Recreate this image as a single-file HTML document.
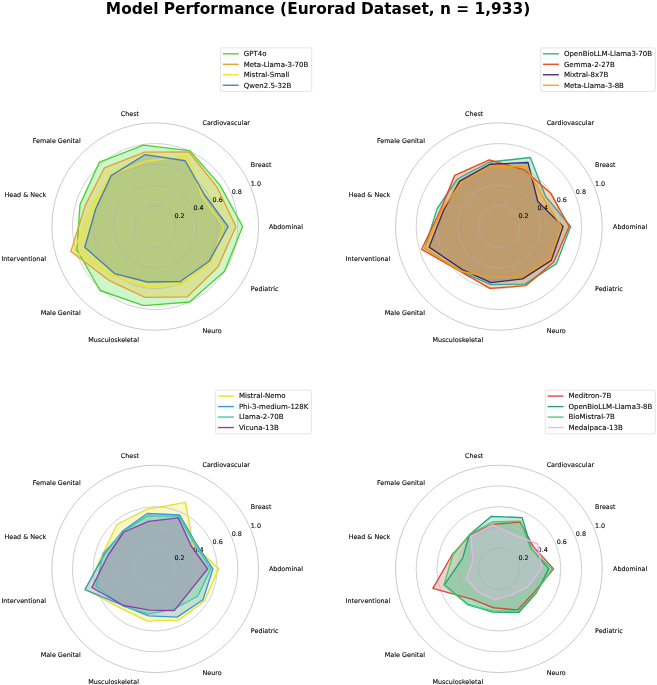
<!DOCTYPE html>
<html><head><meta charset="utf-8"><title>Model Performance</title>
<style>html,body{margin:0;padding:0;background:#fff}body{width:657px;height:685px;overflow:hidden}</style></head>
<body>
<svg width="657" height="685" viewBox="0 0 657 685" style="display:block">
<rect width="657" height="685" fill="#fff"/>
<text x="318.05" y="13.8" text-anchor="middle" font-family="'DejaVu Sans','Liberation Sans',sans-serif" font-weight="bold" font-size="15.39">Model Performance (Eurorad Dataset, n = 1,933)</text>
<g>
<polygon points="242.63,226.55 219.80,184.89 189.76,150.62 143.54,145.15 99.50,162.05 80.03,204.40 76.86,249.63 99.97,290.50 143.86,305.69 189.55,302.01 224.58,271.29" fill="#3eda2a" fill-opacity="0.25" stroke="none"/>
<polygon points="235.92,226.55 216.84,186.80 189.12,152.03 144.54,152.13 104.44,167.77 84.99,205.87 70.91,251.38 108.77,280.31 145.05,297.37 187.23,296.92 217.97,267.03" fill="#ecac08" fill-opacity="0.25" stroke="none"/>
<polygon points="223.72,226.55 201.98,196.39 187.23,156.18 145.85,161.27 110.53,174.82 91.24,207.71 73.89,250.51 112.56,275.92 146.52,287.11 181.60,284.56 211.10,262.60" fill="#f0e400" fill-opacity="0.25" stroke="none"/>
<polygon points="228.17,226.55 204.50,194.76 185.17,160.71 144.90,154.70 111.21,175.61 95.70,209.02 84.79,247.29 114.59,273.57 147.26,281.98 180.23,281.54 209.11,261.31" fill="#487eb0" fill-opacity="0.25" stroke="none"/>
<ellipse cx="155.2" cy="226.55" rx="20.67" ry="20.74" fill="none" stroke="#b0b0b0" stroke-width="0.6"/>
<ellipse cx="155.2" cy="226.55" rx="41.34" ry="41.48" fill="none" stroke="#b0b0b0" stroke-width="0.6"/>
<ellipse cx="155.2" cy="226.55" rx="62.01" ry="62.22" fill="none" stroke="#b0b0b0" stroke-width="0.6"/>
<ellipse cx="155.2" cy="226.55" rx="82.68" ry="82.96" fill="none" stroke="#b0b0b0" stroke-width="0.6"/>
<text x="179.50" y="217.62" text-anchor="middle" font-family="'DejaVu Sans','Liberation Sans',sans-serif" stroke="#000" stroke-width="0.11" stroke-opacity="0.8" font-size="6.4">0.2</text>
<text x="198.59" y="209.68" text-anchor="middle" font-family="'DejaVu Sans','Liberation Sans',sans-serif" stroke="#000" stroke-width="0.11" stroke-opacity="0.8" font-size="6.4">0.4</text>
<text x="217.69" y="201.74" text-anchor="middle" font-family="'DejaVu Sans','Liberation Sans',sans-serif" stroke="#000" stroke-width="0.11" stroke-opacity="0.8" font-size="6.4">0.6</text>
<text x="236.79" y="193.81" text-anchor="middle" font-family="'DejaVu Sans','Liberation Sans',sans-serif" stroke="#000" stroke-width="0.11" stroke-opacity="0.8" font-size="6.4">0.8</text>
<text x="255.88" y="185.87" text-anchor="middle" font-family="'DejaVu Sans','Liberation Sans',sans-serif" stroke="#000" stroke-width="0.11" stroke-opacity="0.8" font-size="6.4">1.0</text>
<polygon points="242.63,226.55 219.80,184.89 189.76,150.62 143.54,145.15 99.50,162.05 80.03,204.40 76.86,249.63 99.97,290.50 143.86,305.69 189.55,302.01 224.58,271.29" fill="none" stroke="#4cd137" stroke-width="1.35" stroke-linejoin="round"/>
<polygon points="235.92,226.55 216.84,186.80 189.12,152.03 144.54,152.13 104.44,167.77 84.99,205.87 70.91,251.38 108.77,280.31 145.05,297.37 187.23,296.92 217.97,267.03" fill="none" stroke="#e5a22c" stroke-width="1.35" stroke-linejoin="round"/>
<polygon points="223.72,226.55 201.98,196.39 187.23,156.18 145.85,161.27 110.53,174.82 91.24,207.71 73.89,250.51 112.56,275.92 146.52,287.11 181.60,284.56 211.10,262.60" fill="none" stroke="#ece32f" stroke-width="1.35" stroke-linejoin="round"/>
<polygon points="228.17,226.55 204.50,194.76 185.17,160.71 144.90,154.70 111.21,175.61 95.70,209.02 84.79,247.29 114.59,273.57 147.26,281.98 180.23,281.54 209.11,261.31" fill="none" stroke="#487eb0" stroke-width="1.35" stroke-linejoin="round"/>
<ellipse cx="155.2" cy="226.55" rx="103.35" ry="103.7" fill="none" stroke="#000" stroke-opacity="0.42" stroke-width="0.51"/>
<text x="268.88" y="228.85" text-anchor="start" font-family="'DejaVu Sans','Liberation Sans',sans-serif" stroke="#000" stroke-width="0.11" stroke-opacity="0.8" font-size="6.4">Abdominal</text>
<text x="250.84" y="167.18" text-anchor="start" font-family="'DejaVu Sans','Liberation Sans',sans-serif" stroke="#000" stroke-width="0.11" stroke-opacity="0.8" font-size="6.4">Breast</text>
<text x="202.43" y="125.09" text-anchor="start" font-family="'DejaVu Sans','Liberation Sans',sans-serif" stroke="#000" stroke-width="0.11" stroke-opacity="0.8" font-size="6.4">Cardiovascular</text>
<text x="139.02" y="115.95" text-anchor="end" font-family="'DejaVu Sans','Liberation Sans',sans-serif" stroke="#000" stroke-width="0.11" stroke-opacity="0.8" font-size="6.4">Chest</text>
<text x="80.75" y="142.65" text-anchor="end" font-family="'DejaVu Sans','Liberation Sans',sans-serif" stroke="#000" stroke-width="0.11" stroke-opacity="0.8" font-size="6.4">Female Genital</text>
<text x="46.12" y="196.72" text-anchor="end" font-family="'DejaVu Sans','Liberation Sans',sans-serif" stroke="#000" stroke-width="0.11" stroke-opacity="0.8" font-size="6.4">Head &amp; Neck</text>
<text x="46.12" y="260.99" text-anchor="end" font-family="'DejaVu Sans','Liberation Sans',sans-serif" stroke="#000" stroke-width="0.11" stroke-opacity="0.8" font-size="6.4">Interventional</text>
<text x="80.75" y="315.06" text-anchor="end" font-family="'DejaVu Sans','Liberation Sans',sans-serif" stroke="#000" stroke-width="0.11" stroke-opacity="0.8" font-size="6.4">Male Genital</text>
<text x="139.02" y="341.76" text-anchor="end" font-family="'DejaVu Sans','Liberation Sans',sans-serif" stroke="#000" stroke-width="0.11" stroke-opacity="0.8" font-size="6.4">Musculoskeletal</text>
<text x="202.43" y="332.62" text-anchor="start" font-family="'DejaVu Sans','Liberation Sans',sans-serif" stroke="#000" stroke-width="0.11" stroke-opacity="0.8" font-size="6.4">Neuro</text>
<text x="250.84" y="290.52" text-anchor="start" font-family="'DejaVu Sans','Liberation Sans',sans-serif" stroke="#000" stroke-width="0.11" stroke-opacity="0.8" font-size="6.4">Pediatric</text>
</g>
<g>
<polygon points="570.62,226.55 545.59,196.44 530.33,157.50 489.65,161.99 457.62,178.74 437.22,208.38 424.73,248.40 460.32,271.22 490.58,284.65 525.09,284.09 556.46,263.66" fill="#28af78" fill-opacity="0.25" stroke="none"/>
<polygon points="569.18,226.55 550.63,193.19 524.66,169.95 489.34,159.83 454.71,175.37 440.79,209.43 421.65,249.31 460.19,271.38 490.03,288.44 525.82,285.69 553.76,261.93" fill="#eb460a" fill-opacity="0.25" stroke="none"/>
<polygon points="563.08,226.55 537.76,201.49 528.05,162.50 489.97,164.24 459.65,181.09 443.67,210.28 429.19,247.09 461.91,269.38 490.85,282.70 522.73,278.90 551.33,260.36" fill="#3f2855" fill-opacity="0.25" stroke="none"/>
<polygon points="561.43,226.55 543.24,197.96 526.21,166.56 490.30,166.50 461.07,182.74 441.88,209.75 424.73,248.40 460.32,271.22 491.60,277.46 521.74,276.73 549.85,259.40" fill="#f59e00" fill-opacity="0.25" stroke="none"/>
<ellipse cx="498.9" cy="226.55" rx="20.67" ry="20.74" fill="none" stroke="#b0b0b0" stroke-width="0.6"/>
<ellipse cx="498.9" cy="226.55" rx="41.34" ry="41.48" fill="none" stroke="#b0b0b0" stroke-width="0.6"/>
<ellipse cx="498.9" cy="226.55" rx="62.01" ry="62.22" fill="none" stroke="#b0b0b0" stroke-width="0.6"/>
<ellipse cx="498.9" cy="226.55" rx="82.68" ry="82.96" fill="none" stroke="#b0b0b0" stroke-width="0.6"/>
<text x="523.60" y="217.62" text-anchor="middle" font-family="'DejaVu Sans','Liberation Sans',sans-serif" stroke="#000" stroke-width="0.11" stroke-opacity="0.8" font-size="6.4">0.2</text>
<text x="542.69" y="209.68" text-anchor="middle" font-family="'DejaVu Sans','Liberation Sans',sans-serif" stroke="#000" stroke-width="0.11" stroke-opacity="0.8" font-size="6.4">0.4</text>
<text x="561.79" y="201.74" text-anchor="middle" font-family="'DejaVu Sans','Liberation Sans',sans-serif" stroke="#000" stroke-width="0.11" stroke-opacity="0.8" font-size="6.4">0.6</text>
<text x="580.89" y="193.81" text-anchor="middle" font-family="'DejaVu Sans','Liberation Sans',sans-serif" stroke="#000" stroke-width="0.11" stroke-opacity="0.8" font-size="6.4">0.8</text>
<text x="599.98" y="185.87" text-anchor="middle" font-family="'DejaVu Sans','Liberation Sans',sans-serif" stroke="#000" stroke-width="0.11" stroke-opacity="0.8" font-size="6.4">1.0</text>
<polygon points="570.62,226.55 545.59,196.44 530.33,157.50 489.65,161.99 457.62,178.74 437.22,208.38 424.73,248.40 460.32,271.22 490.58,284.65 525.09,284.09 556.46,263.66" fill="none" stroke="#2fae88" stroke-width="1.35" stroke-linejoin="round"/>
<polygon points="569.18,226.55 550.63,193.19 524.66,169.95 489.34,159.83 454.71,175.37 440.79,209.43 421.65,249.31 460.19,271.38 490.03,288.44 525.82,285.69 553.76,261.93" fill="none" stroke="#e84a18" stroke-width="1.35" stroke-linejoin="round"/>
<polygon points="563.08,226.55 537.76,201.49 528.05,162.50 489.97,164.24 459.65,181.09 443.67,210.28 429.19,247.09 461.91,269.38 490.85,282.70 522.73,278.90 551.33,260.36" fill="none" stroke="#3f2a66" stroke-width="1.35" stroke-linejoin="round"/>
<polygon points="561.43,226.55 543.24,197.96 526.21,166.56 490.30,166.50 461.07,182.74 441.88,209.75 424.73,248.40 460.32,271.22 491.60,277.46 521.74,276.73 549.85,259.40" fill="none" stroke="#f3a012" stroke-width="1.35" stroke-linejoin="round"/>
<ellipse cx="498.9" cy="226.55" rx="103.35" ry="103.7" fill="none" stroke="#000" stroke-opacity="0.42" stroke-width="0.51"/>
<text x="613.09" y="228.85" text-anchor="start" font-family="'DejaVu Sans','Liberation Sans',sans-serif" stroke="#000" stroke-width="0.11" stroke-opacity="0.8" font-size="6.4">Abdominal</text>
<text x="595.04" y="167.18" text-anchor="start" font-family="'DejaVu Sans','Liberation Sans',sans-serif" stroke="#000" stroke-width="0.11" stroke-opacity="0.8" font-size="6.4">Breast</text>
<text x="546.63" y="125.09" text-anchor="start" font-family="'DejaVu Sans','Liberation Sans',sans-serif" stroke="#000" stroke-width="0.11" stroke-opacity="0.8" font-size="6.4">Cardiovascular</text>
<text x="483.22" y="115.95" text-anchor="end" font-family="'DejaVu Sans','Liberation Sans',sans-serif" stroke="#000" stroke-width="0.11" stroke-opacity="0.8" font-size="6.4">Chest</text>
<text x="424.95" y="142.65" text-anchor="end" font-family="'DejaVu Sans','Liberation Sans',sans-serif" stroke="#000" stroke-width="0.11" stroke-opacity="0.8" font-size="6.4">Female Genital</text>
<text x="390.32" y="196.72" text-anchor="end" font-family="'DejaVu Sans','Liberation Sans',sans-serif" stroke="#000" stroke-width="0.11" stroke-opacity="0.8" font-size="6.4">Head &amp; Neck</text>
<text x="390.32" y="260.99" text-anchor="end" font-family="'DejaVu Sans','Liberation Sans',sans-serif" stroke="#000" stroke-width="0.11" stroke-opacity="0.8" font-size="6.4">Interventional</text>
<text x="424.95" y="315.06" text-anchor="end" font-family="'DejaVu Sans','Liberation Sans',sans-serif" stroke="#000" stroke-width="0.11" stroke-opacity="0.8" font-size="6.4">Male Genital</text>
<text x="483.22" y="341.76" text-anchor="end" font-family="'DejaVu Sans','Liberation Sans',sans-serif" stroke="#000" stroke-width="0.11" stroke-opacity="0.8" font-size="6.4">Musculoskeletal</text>
<text x="546.63" y="332.62" text-anchor="start" font-family="'DejaVu Sans','Liberation Sans',sans-serif" stroke="#000" stroke-width="0.11" stroke-opacity="0.8" font-size="6.4">Neuro</text>
<text x="595.04" y="290.52" text-anchor="start" font-family="'DejaVu Sans','Liberation Sans',sans-serif" stroke="#000" stroke-width="0.11" stroke-opacity="0.8" font-size="6.4">Pediatric</text>
</g>
<g>
<polygon points="218.76,568.85 193.02,544.46 185.42,502.44 146.67,509.32 116.89,524.49 103.04,553.48 85.79,589.30 121.02,608.43 147.71,621.10 178.56,620.16 204.67,600.75" fill="#e6e12c" fill-opacity="0.25" stroke="none"/>
<polygon points="212.87,568.85 195.63,542.78 179.71,514.99 147.27,513.52 122.58,531.08 104.63,553.95 84.89,589.56 123.46,605.61 148.46,615.86 177.18,617.15 203.02,599.69" fill="#3498d2" fill-opacity="0.25" stroke="none"/>
<polygon points="210.70,568.85 194.32,543.62 179.07,516.40 147.61,515.89 123.05,531.62 103.14,553.51 96.00,586.29 123.05,606.08 148.76,613.81 173.58,609.22 197.72,596.27" fill="#3fc996" fill-opacity="0.25" stroke="none"/>
<polygon points="207.70,568.85 191.02,545.75 178.38,517.91 148.40,521.43 123.59,532.25 108.20,555.00 91.93,587.49 123.53,605.53 149.29,610.11 174.22,610.64 189.80,591.16" fill="#8e3aa0" fill-opacity="0.25" stroke="none"/>
<ellipse cx="155.2" cy="568.85" rx="20.67" ry="20.74" fill="none" stroke="#b0b0b0" stroke-width="0.6"/>
<ellipse cx="155.2" cy="568.85" rx="41.34" ry="41.48" fill="none" stroke="#b0b0b0" stroke-width="0.6"/>
<ellipse cx="155.2" cy="568.85" rx="62.01" ry="62.22" fill="none" stroke="#b0b0b0" stroke-width="0.6"/>
<ellipse cx="155.2" cy="568.85" rx="82.68" ry="82.96" fill="none" stroke="#b0b0b0" stroke-width="0.6"/>
<text x="179.50" y="559.92" text-anchor="middle" font-family="'DejaVu Sans','Liberation Sans',sans-serif" stroke="#000" stroke-width="0.11" stroke-opacity="0.8" font-size="6.4">0.2</text>
<text x="198.59" y="551.98" text-anchor="middle" font-family="'DejaVu Sans','Liberation Sans',sans-serif" stroke="#000" stroke-width="0.11" stroke-opacity="0.8" font-size="6.4">0.4</text>
<text x="217.69" y="544.04" text-anchor="middle" font-family="'DejaVu Sans','Liberation Sans',sans-serif" stroke="#000" stroke-width="0.11" stroke-opacity="0.8" font-size="6.4">0.6</text>
<text x="236.79" y="536.11" text-anchor="middle" font-family="'DejaVu Sans','Liberation Sans',sans-serif" stroke="#000" stroke-width="0.11" stroke-opacity="0.8" font-size="6.4">0.8</text>
<text x="255.88" y="528.17" text-anchor="middle" font-family="'DejaVu Sans','Liberation Sans',sans-serif" stroke="#000" stroke-width="0.11" stroke-opacity="0.8" font-size="6.4">1.0</text>
<polygon points="218.76,568.85 193.02,544.46 185.42,502.44 146.67,509.32 116.89,524.49 103.04,553.48 85.79,589.30 121.02,608.43 147.71,621.10 178.56,620.16 204.67,600.75" fill="none" stroke="#e6e12c" stroke-width="1.35" stroke-linejoin="round"/>
<polygon points="212.87,568.85 195.63,542.78 179.71,514.99 147.27,513.52 122.58,531.08 104.63,553.95 84.89,589.56 123.46,605.61 148.46,615.86 177.18,617.15 203.02,599.69" fill="none" stroke="#3498db" stroke-width="1.35" stroke-linejoin="round"/>
<polygon points="210.70,568.85 194.32,543.62 179.07,516.40 147.61,515.89 123.05,531.62 103.14,553.51 96.00,586.29 123.05,606.08 148.76,613.81 173.58,609.22 197.72,596.27" fill="none" stroke="#3fc9a3" stroke-width="1.35" stroke-linejoin="round"/>
<polygon points="207.70,568.85 191.02,545.75 178.38,517.91 148.40,521.43 123.59,532.25 108.20,555.00 91.93,587.49 123.53,605.53 149.29,610.11 174.22,610.64 189.80,591.16" fill="none" stroke="#8e3ab2" stroke-width="1.35" stroke-linejoin="round"/>
<ellipse cx="155.2" cy="568.85" rx="103.35" ry="103.7" fill="none" stroke="#000" stroke-opacity="0.42" stroke-width="0.51"/>
<text x="268.88" y="571.15" text-anchor="start" font-family="'DejaVu Sans','Liberation Sans',sans-serif" stroke="#000" stroke-width="0.11" stroke-opacity="0.8" font-size="6.4">Abdominal</text>
<text x="250.84" y="509.48" text-anchor="start" font-family="'DejaVu Sans','Liberation Sans',sans-serif" stroke="#000" stroke-width="0.11" stroke-opacity="0.8" font-size="6.4">Breast</text>
<text x="202.43" y="467.39" text-anchor="start" font-family="'DejaVu Sans','Liberation Sans',sans-serif" stroke="#000" stroke-width="0.11" stroke-opacity="0.8" font-size="6.4">Cardiovascular</text>
<text x="139.02" y="458.25" text-anchor="end" font-family="'DejaVu Sans','Liberation Sans',sans-serif" stroke="#000" stroke-width="0.11" stroke-opacity="0.8" font-size="6.4">Chest</text>
<text x="80.75" y="484.95" text-anchor="end" font-family="'DejaVu Sans','Liberation Sans',sans-serif" stroke="#000" stroke-width="0.11" stroke-opacity="0.8" font-size="6.4">Female Genital</text>
<text x="46.12" y="539.02" text-anchor="end" font-family="'DejaVu Sans','Liberation Sans',sans-serif" stroke="#000" stroke-width="0.11" stroke-opacity="0.8" font-size="6.4">Head &amp; Neck</text>
<text x="46.12" y="603.29" text-anchor="end" font-family="'DejaVu Sans','Liberation Sans',sans-serif" stroke="#000" stroke-width="0.11" stroke-opacity="0.8" font-size="6.4">Interventional</text>
<text x="80.75" y="657.36" text-anchor="end" font-family="'DejaVu Sans','Liberation Sans',sans-serif" stroke="#000" stroke-width="0.11" stroke-opacity="0.8" font-size="6.4">Male Genital</text>
<text x="139.02" y="684.06" text-anchor="end" font-family="'DejaVu Sans','Liberation Sans',sans-serif" stroke="#000" stroke-width="0.11" stroke-opacity="0.8" font-size="6.4">Musculoskeletal</text>
<text x="202.43" y="674.92" text-anchor="start" font-family="'DejaVu Sans','Liberation Sans',sans-serif" stroke="#000" stroke-width="0.11" stroke-opacity="0.8" font-size="6.4">Neuro</text>
<text x="250.84" y="632.82" text-anchor="start" font-family="'DejaVu Sans','Liberation Sans',sans-serif" stroke="#000" stroke-width="0.11" stroke-opacity="0.8" font-size="6.4">Pediatric</text>
</g>
<g>
<polygon points="553.57,568.85 533.33,546.65 520.15,522.16 492.53,524.40 469.80,535.15 452.00,555.03 432.86,588.31 472.57,599.34 493.33,607.75 517.62,609.98 534.55,591.84" fill="#d2493f" fill-opacity="0.25" stroke="none"/>
<polygon points="548.71,568.85 531.07,548.11 522.21,517.63 491.37,516.30 469.39,534.68 462.61,558.16 444.36,584.92 468.11,604.51 492.69,612.17 518.74,612.43 536.29,592.96" fill="#16a585" fill-opacity="0.25" stroke="none"/>
<polygon points="552.02,568.85 530.63,548.39 520.62,521.12 492.19,522.04 469.39,534.68 452.79,555.26 443.77,585.09 467.90,604.74 492.84,611.14 518.05,610.92 535.85,592.68" fill="#38dc78" fill-opacity="0.25" stroke="none"/>
<polygon points="541.58,568.85 537.59,543.90 514.36,534.89 492.59,524.82 470.81,536.33 473.02,561.22 466.08,578.52 478.60,592.36 494.49,599.64 510.88,595.17 527.24,587.13" fill="#edb9f2" fill-opacity="0.25" stroke="none"/>
<ellipse cx="498.9" cy="568.85" rx="20.67" ry="20.74" fill="none" stroke="#b0b0b0" stroke-width="0.6"/>
<ellipse cx="498.9" cy="568.85" rx="41.34" ry="41.48" fill="none" stroke="#b0b0b0" stroke-width="0.6"/>
<ellipse cx="498.9" cy="568.85" rx="62.01" ry="62.22" fill="none" stroke="#b0b0b0" stroke-width="0.6"/>
<ellipse cx="498.9" cy="568.85" rx="82.68" ry="82.96" fill="none" stroke="#b0b0b0" stroke-width="0.6"/>
<text x="523.60" y="559.92" text-anchor="middle" font-family="'DejaVu Sans','Liberation Sans',sans-serif" stroke="#000" stroke-width="0.11" stroke-opacity="0.8" font-size="6.4">0.2</text>
<text x="542.69" y="551.98" text-anchor="middle" font-family="'DejaVu Sans','Liberation Sans',sans-serif" stroke="#000" stroke-width="0.11" stroke-opacity="0.8" font-size="6.4">0.4</text>
<text x="561.79" y="544.04" text-anchor="middle" font-family="'DejaVu Sans','Liberation Sans',sans-serif" stroke="#000" stroke-width="0.11" stroke-opacity="0.8" font-size="6.4">0.6</text>
<text x="580.89" y="536.11" text-anchor="middle" font-family="'DejaVu Sans','Liberation Sans',sans-serif" stroke="#000" stroke-width="0.11" stroke-opacity="0.8" font-size="6.4">0.8</text>
<text x="599.98" y="528.17" text-anchor="middle" font-family="'DejaVu Sans','Liberation Sans',sans-serif" stroke="#000" stroke-width="0.11" stroke-opacity="0.8" font-size="6.4">1.0</text>
<polygon points="553.57,568.85 533.33,546.65 520.15,522.16 492.53,524.40 469.80,535.15 452.00,555.03 432.86,588.31 472.57,599.34 493.33,607.75 517.62,609.98 534.55,591.84" fill="none" stroke="#d2493f" stroke-width="1.35" stroke-linejoin="round"/>
<polygon points="548.71,568.85 531.07,548.11 522.21,517.63 491.37,516.30 469.39,534.68 462.61,558.16 444.36,584.92 468.11,604.51 492.69,612.17 518.74,612.43 536.29,592.96" fill="none" stroke="#1f9e77" stroke-width="1.35" stroke-linejoin="round"/>
<polygon points="552.02,568.85 530.63,548.39 520.62,521.12 492.19,522.04 469.39,534.68 452.79,555.26 443.77,585.09 467.90,604.74 492.84,611.14 518.05,610.92 535.85,592.68" fill="none" stroke="#4ccd6a" stroke-width="1.35" stroke-linejoin="round"/>
<polygon points="541.58,568.85 537.59,543.90 514.36,534.89 492.59,524.82 470.81,536.33 473.02,561.22 466.08,578.52 478.60,592.36 494.49,599.64 510.88,595.17 527.24,587.13" fill="none" stroke="#edb4ef" stroke-width="1.35" stroke-linejoin="round"/>
<ellipse cx="498.9" cy="568.85" rx="103.35" ry="103.7" fill="none" stroke="#000" stroke-opacity="0.42" stroke-width="0.51"/>
<text x="613.09" y="571.15" text-anchor="start" font-family="'DejaVu Sans','Liberation Sans',sans-serif" stroke="#000" stroke-width="0.11" stroke-opacity="0.8" font-size="6.4">Abdominal</text>
<text x="595.04" y="509.48" text-anchor="start" font-family="'DejaVu Sans','Liberation Sans',sans-serif" stroke="#000" stroke-width="0.11" stroke-opacity="0.8" font-size="6.4">Breast</text>
<text x="546.63" y="467.39" text-anchor="start" font-family="'DejaVu Sans','Liberation Sans',sans-serif" stroke="#000" stroke-width="0.11" stroke-opacity="0.8" font-size="6.4">Cardiovascular</text>
<text x="483.22" y="458.25" text-anchor="end" font-family="'DejaVu Sans','Liberation Sans',sans-serif" stroke="#000" stroke-width="0.11" stroke-opacity="0.8" font-size="6.4">Chest</text>
<text x="424.95" y="484.95" text-anchor="end" font-family="'DejaVu Sans','Liberation Sans',sans-serif" stroke="#000" stroke-width="0.11" stroke-opacity="0.8" font-size="6.4">Female Genital</text>
<text x="390.32" y="539.02" text-anchor="end" font-family="'DejaVu Sans','Liberation Sans',sans-serif" stroke="#000" stroke-width="0.11" stroke-opacity="0.8" font-size="6.4">Head &amp; Neck</text>
<text x="390.32" y="603.29" text-anchor="end" font-family="'DejaVu Sans','Liberation Sans',sans-serif" stroke="#000" stroke-width="0.11" stroke-opacity="0.8" font-size="6.4">Interventional</text>
<text x="424.95" y="657.36" text-anchor="end" font-family="'DejaVu Sans','Liberation Sans',sans-serif" stroke="#000" stroke-width="0.11" stroke-opacity="0.8" font-size="6.4">Male Genital</text>
<text x="483.22" y="684.06" text-anchor="end" font-family="'DejaVu Sans','Liberation Sans',sans-serif" stroke="#000" stroke-width="0.11" stroke-opacity="0.8" font-size="6.4">Musculoskeletal</text>
<text x="546.63" y="674.92" text-anchor="start" font-family="'DejaVu Sans','Liberation Sans',sans-serif" stroke="#000" stroke-width="0.11" stroke-opacity="0.8" font-size="6.4">Neuro</text>
<text x="595.04" y="632.82" text-anchor="start" font-family="'DejaVu Sans','Liberation Sans',sans-serif" stroke="#000" stroke-width="0.11" stroke-opacity="0.8" font-size="6.4">Pediatric</text>
</g>
<rect x="220.45" y="47.9" width="91.2" height="43.6" rx="1.4" ry="1.4" fill="#fff" fill-opacity="0.8" stroke="#ccc" stroke-opacity="0.8" stroke-width="0.64"/>
<line x1="223.45" y1="53.80" x2="238.05" y2="53.80" stroke="#4cd137" stroke-width="1.35" stroke-linecap="square"/>
<text x="243.75" y="56.18" font-family="'DejaVu Sans','Liberation Sans',sans-serif" stroke="#000" stroke-width="0.11" stroke-opacity="0.8" font-size="7.02">GPT4o</text>
<line x1="223.45" y1="64.28" x2="238.05" y2="64.28" stroke="#e5a22c" stroke-width="1.35" stroke-linecap="square"/>
<text x="243.75" y="66.66" font-family="'DejaVu Sans','Liberation Sans',sans-serif" stroke="#000" stroke-width="0.11" stroke-opacity="0.8" font-size="7.02">Meta-Llama-3-70B</text>
<line x1="223.45" y1="74.76" x2="238.05" y2="74.76" stroke="#ece32f" stroke-width="1.35" stroke-linecap="square"/>
<text x="243.75" y="77.14" font-family="'DejaVu Sans','Liberation Sans',sans-serif" stroke="#000" stroke-width="0.11" stroke-opacity="0.8" font-size="7.02">Mistral-Small</text>
<line x1="223.45" y1="85.24" x2="238.05" y2="85.24" stroke="#487eb0" stroke-width="1.35" stroke-linecap="square"/>
<text x="243.75" y="87.62" font-family="'DejaVu Sans','Liberation Sans',sans-serif" stroke="#000" stroke-width="0.11" stroke-opacity="0.8" font-size="7.02">Qwen2.5-32B</text>
<rect x="540.6" y="47.9" width="114.7" height="43.6" rx="1.4" ry="1.4" fill="#fff" fill-opacity="0.8" stroke="#ccc" stroke-opacity="0.8" stroke-width="0.64"/>
<line x1="543.60" y1="53.80" x2="558.20" y2="53.80" stroke="#2fae88" stroke-width="1.35" stroke-linecap="square"/>
<text x="563.90" y="56.18" font-family="'DejaVu Sans','Liberation Sans',sans-serif" stroke="#000" stroke-width="0.11" stroke-opacity="0.8" font-size="7.02">OpenBioLLM-Llama3-70B</text>
<line x1="543.60" y1="64.28" x2="558.20" y2="64.28" stroke="#e84a18" stroke-width="1.35" stroke-linecap="square"/>
<text x="563.90" y="66.66" font-family="'DejaVu Sans','Liberation Sans',sans-serif" stroke="#000" stroke-width="0.11" stroke-opacity="0.8" font-size="7.02">Gemma-2-27B</text>
<line x1="543.60" y1="74.76" x2="558.20" y2="74.76" stroke="#3f2a66" stroke-width="1.35" stroke-linecap="square"/>
<text x="563.90" y="77.14" font-family="'DejaVu Sans','Liberation Sans',sans-serif" stroke="#000" stroke-width="0.11" stroke-opacity="0.8" font-size="7.02">Mixtral-8x7B</text>
<line x1="543.60" y1="85.24" x2="558.20" y2="85.24" stroke="#f3a012" stroke-width="1.35" stroke-linecap="square"/>
<text x="563.90" y="87.62" font-family="'DejaVu Sans','Liberation Sans',sans-serif" stroke="#000" stroke-width="0.11" stroke-opacity="0.8" font-size="7.02">Meta-Llama-3-8B</text>
<rect x="215.6" y="390.2" width="95.8" height="43.6" rx="1.4" ry="1.4" fill="#fff" fill-opacity="0.8" stroke="#ccc" stroke-opacity="0.8" stroke-width="0.64"/>
<line x1="218.60" y1="396.10" x2="233.20" y2="396.10" stroke="#e6e12c" stroke-width="1.35" stroke-linecap="square"/>
<text x="238.90" y="398.48" font-family="'DejaVu Sans','Liberation Sans',sans-serif" stroke="#000" stroke-width="0.11" stroke-opacity="0.8" font-size="7.02">Mistral-Nemo</text>
<line x1="218.60" y1="406.58" x2="233.20" y2="406.58" stroke="#3498db" stroke-width="1.35" stroke-linecap="square"/>
<text x="238.90" y="408.96" font-family="'DejaVu Sans','Liberation Sans',sans-serif" stroke="#000" stroke-width="0.11" stroke-opacity="0.8" font-size="7.02">Phi-3-medium-128K</text>
<line x1="218.60" y1="417.06" x2="233.20" y2="417.06" stroke="#3fc9a3" stroke-width="1.35" stroke-linecap="square"/>
<text x="238.90" y="419.44" font-family="'DejaVu Sans','Liberation Sans',sans-serif" stroke="#000" stroke-width="0.11" stroke-opacity="0.8" font-size="7.02">Llama-2-70B</text>
<line x1="218.60" y1="427.54" x2="233.20" y2="427.54" stroke="#8e3ab2" stroke-width="1.35" stroke-linecap="square"/>
<text x="238.90" y="429.92" font-family="'DejaVu Sans','Liberation Sans',sans-serif" stroke="#000" stroke-width="0.11" stroke-opacity="0.8" font-size="7.02">Vicuna-13B</text>
<rect x="545.2" y="390.2" width="110.1" height="43.6" rx="1.4" ry="1.4" fill="#fff" fill-opacity="0.8" stroke="#ccc" stroke-opacity="0.8" stroke-width="0.64"/>
<line x1="548.20" y1="396.10" x2="562.80" y2="396.10" stroke="#d2493f" stroke-width="1.35" stroke-linecap="square"/>
<text x="568.50" y="398.48" font-family="'DejaVu Sans','Liberation Sans',sans-serif" stroke="#000" stroke-width="0.11" stroke-opacity="0.8" font-size="7.02">Meditron-7B</text>
<line x1="548.20" y1="406.58" x2="562.80" y2="406.58" stroke="#1f9e77" stroke-width="1.35" stroke-linecap="square"/>
<text x="568.50" y="408.96" font-family="'DejaVu Sans','Liberation Sans',sans-serif" stroke="#000" stroke-width="0.11" stroke-opacity="0.8" font-size="7.02">OpenBioLLM-Llama3-8B</text>
<line x1="548.20" y1="417.06" x2="562.80" y2="417.06" stroke="#4ccd6a" stroke-width="1.35" stroke-linecap="square"/>
<text x="568.50" y="419.44" font-family="'DejaVu Sans','Liberation Sans',sans-serif" stroke="#000" stroke-width="0.11" stroke-opacity="0.8" font-size="7.02">BioMistral-7B</text>
<line x1="548.20" y1="427.54" x2="562.80" y2="427.54" stroke="#edb4ef" stroke-width="1.35" stroke-linecap="square"/>
<text x="568.50" y="429.92" font-family="'DejaVu Sans','Liberation Sans',sans-serif" stroke="#000" stroke-width="0.11" stroke-opacity="0.8" font-size="7.02">Medalpaca-13B</text>
</svg>
</body></html>
